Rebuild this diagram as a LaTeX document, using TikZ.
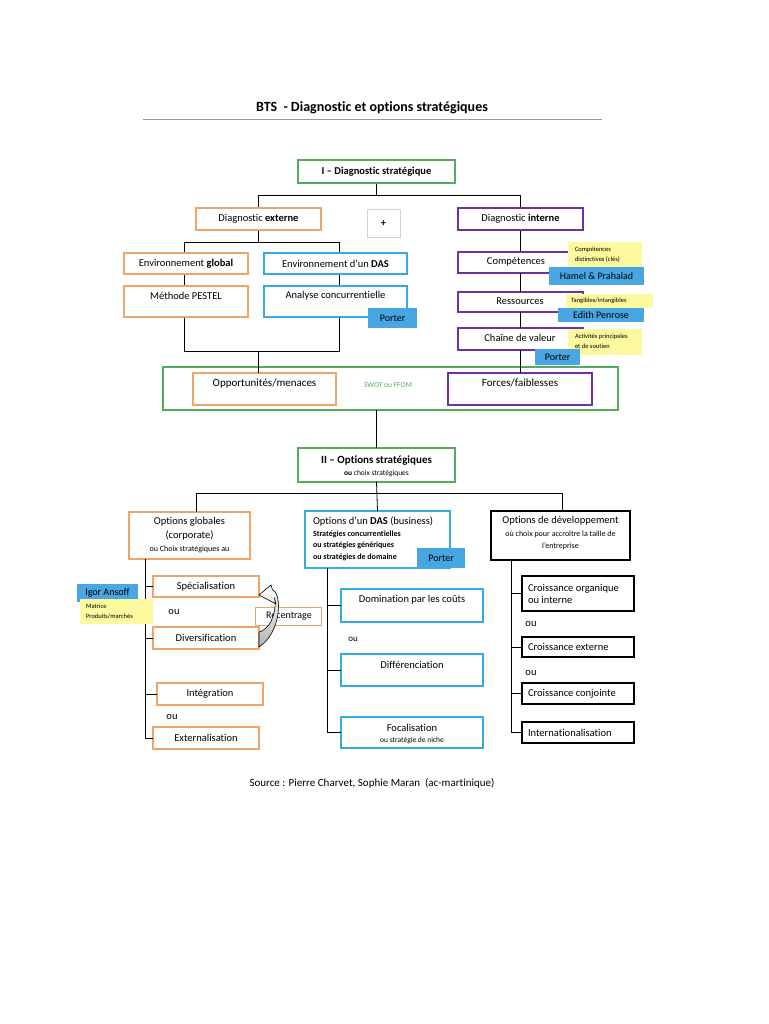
\documentclass[tikz,border=0pt]{standalone}
\usepackage{fontspec}
\setmainfont{Carlito}[Ligatures={NoCommon,NoContextual}]
\usetikzlibrary{backgrounds}
\pgfdeclarelayer{bg}
\pgfsetlayers{bg,background,main}
\definecolor{grn}{RGB}{84,172,92}
\definecolor{org}{RGB}{240,164,104}
\definecolor{blu}{RGB}{52,170,226}
\definecolor{pur}{RGB}{112,48,160}
\definecolor{noteb}{RGB}{72,166,226}
\definecolor{notey}{RGB}{252,249,158}
\definecolor{tan}{RGB}{214,170,120}
\newcommand\fz[2]{\fontsize{#1}{#2}\selectfont}
\newcommand\bx[7]{\node[#2,anchor=north west,minimum width={(#5-#3)*1pt},minimum height={(#6-#4)*1pt}] (#1) at (#3,#4) {#7};}
\begin{document}
\begin{tikzpicture}[x=1pt,y=-1pt,
  every node/.style={inner sep=0pt,outer sep=0pt,font=\fz{10.5}{12}},
  gbox/.style={draw=grn,line width=1.6pt,fill=white},
  obox/.style={draw=org,line width=1.6pt,fill=white},
  bbox/.style={draw=blu,line width=1.6pt,fill=white},
  pbox/.style={draw=pur,line width=1.6pt,fill=white},
  kbox/.style={draw=black,line width=1.5pt,fill=white},
  plusbox/.style={draw=gray!35,line width=1pt,fill=white},
  rbox/.style={draw=tan,line width=0.7pt,fill=white},
  noteB/.style={fill=noteb,font=\fz{10}{12}},
  noteY/.style={fill=notey},
  ytxt/.style={anchor=west,align=left,font=\fz{6.5}{10}},
  conn/.style={draw=black,line width=0.8pt},
  small/.style={font=\fz{8}{10}},
  tiny/.style={font=\fz{7.5}{9}},
  ltxt/.style={anchor=west,align=left}]
\useasboundingbox (0,0) rectangle (768,1024);
\begin{pgfonlayer}{bg}
\fill[white] (0,0) rectangle (768,1024);
\end{pgfonlayer}

% title
\node[font=\bfseries\fz{14}{16}] (title) at (372,108) {BTS\ \ - Diagnostic et options stratégiques};
\coordinate (tl) at (143,119);
\coordinate (tr) at (602,119);
\draw[gray!80,line width=0.6pt] (tl) -- (tr);

% ---------- Part I ----------
\bx{ds}{gbox}{298}{160}{455}{183}{\bfseries I -- Diagnostic stratégique}
\bx{de}{obox}{196}{208}{321}{230}{Diagnostic \textbf{externe}}
\bx{plus}{plusbox}{367}{210}{400}{237}{\textbf{+}}
\bx{di}{pbox}{458}{208}{583}{230}{Diagnostic \textbf{interne}}

\bx{eg}{obox}{124}{253}{248}{274}{Environnement \textbf{global}}
\bx{ed}{bbox}{264}{253}{407}{274}{Environnement d’un \textbf{DAS}}
\bx{pe}{obox}{124}{286}{248}{317}{}
\node (pet) at (186,296) {Méthode PESTEL};
\bx{ac}{bbox}{264}{286}{407}{317}{}
\node (act) at (335.5,296) {Analyse concurrentielle};

\bx{comp}{pbox}{458}{252}{583}{273}{}
\node (compt) at (516,262) {Compétences};
\bx{res}{pbox}{458}{292}{583}{312}{}
\node (rest) at (520,301) {Ressources};
\bx{ch}{pbox}{458}{328}{583}{350}{}
\node (cht) at (520,338) {Chaîne de valeur};

\bx{swot}{gbox}{163}{367}{618}{410}{}
\node[text=grn,font=\fz{7.5}{9}] (swott) at (388,385) {SWOT ou FFOM};
\bx{opp}{obox}{193}{373}{336}{405}{}
\node[font=\fz{11}{13}] (oppt) at (264.5,384) {Opportunités/menaces};
\bx{fo}{pbox}{448}{373}{592}{405}{}
\node[font=\fz{11}{13}] (fot) at (520,383) {Forces/faiblesses};

% connectors part I
\coordinate (y1) at (0,195);
\coordinate (y2) at (0,242);
\coordinate (y3) at (0,351);
\coordinate (xl) at (184,0);
\coordinate (xr) at (339,0);
\begin{pgfonlayer}{background}
\draw[conn] (ds.south) -- (ds.south |- y1);
\draw[conn] (de.north) -- (de.north |- y1) -- (di.north |- y1) -- (di.north);
\draw[conn] (de.south) -- (de.south |- y2);
\draw[conn] (xl |- y2) -- (xr |- y2) -- (xr |- y3) -- (xl |- y3) -- cycle;
\draw[conn] (di.south) -- (comp.north -| di.south);
\end{pgfonlayer}
\draw[conn] (comp.south -| di.south) -- (res.north -| di.south);
\draw[conn] (res.south -| di.south) -- (ch.north -| di.south);
\draw[conn] (ch.south -| di.south) -- (fo.north -| di.south);
\draw[conn] (de.south |- y3) -- (de.south |- opp.north);

% ---------- Part II ----------
\bx{ii}{gbox}{298}{448}{455}{482}{}
\node[font=\bfseries\fz{11}{13}] (iit) at (376.5,461) {II -- Options stratégiques};
\node[tiny] (iis) at (376.5,473.5) {\textbf{ou} choix stratégiques};
\draw[conn] (swot.south -| ii.north) -- (ii.north);

\bx{og}{obox}{129}{512}{250}{559}{}
\node (og1) at (189.5,522) {Options globales};
\node (og2) at (189.5,536) {(corporate)};
\node[small] (og3) at (189.5,549) {ou Choix stratégiques au};

\bx{das}{bbox}{305}{511}{450}{568}{}
\node[ltxt] (das1) at (313,522) {Options d’un \textbf{DAS} (business)};
\node[ltxt,font=\bfseries\fz{8}{10}] (das2) at (313,534) {Stratégies concurrentielles};
\node[ltxt,font=\bfseries\fz{8}{10}] (das3) at (313,545.5) {ou stratégies génériques};
\node[ltxt,font=\bfseries\fz{8}{10}] (das4) at (313,557) {ou stratégies de domaine};

\bx{od}{kbox}{491}{511}{630}{560}{}
\node (od1) at (560.5,521) {Options de développement};
\node[small] (od2) at (560.5,534) {où choix pour accroître la taille de};
\node[small] (od3) at (560.5,546) {l’entreprise};

\coordinate (y4) at (0,493);
\draw[conn] (ii.south) -- (das.north);
\draw[conn] ([xshift=7pt]og.north) -- ([xshift=7pt]og.north |- y4) -- ([xshift=1.5pt]od.north |- y4) -- ([xshift=1.5pt]od.north);

% left column
\bx{sp}{obox}{153}{576}{259}{597}{Spécialisation}
\bx{dv}{obox}{153}{627}{259}{649}{Diversification}
\bx{ig}{obox}{157}{683}{263}{705}{Intégration}
\bx{ex}{obox}{153}{727}{259}{749}{Externalisation}
\node (ou1) at (174,612) {ou};
\node (ou2) at (172,717) {ou};
\coordinate (xc1) at (145,0);
\draw[conn] (og.south -| xc1) -- (xc1 |- ex.west) -- (ex.west);
\draw[conn] (xc1 |- sp.west) -- (sp.west);
\draw[conn] (xc1 |- dv.west) -- (dv.west);
\draw[conn] (xc1 |- ig.west) -- (ig.west);

% middle column
\bx{dom}{bbox}{341}{589}{483}{622}{}
\node (domt) at (412,600) {Domination par les coûts};
\bx{dif}{bbox}{341}{654}{483}{686}{}
\node (dift) at (412,665) {Différenciation};
\bx{foc}{bbox}{341}{717}{483}{748}{}
\node (foct) at (412,727.5) {Focalisation};
\node[tiny] (focs) at (412,741) {ou stratégie de niche};
\node[font=\fz{9}{10}] (ou3) at (353,639) {ou};
\coordinate (xc2) at (327,0);
\draw[conn] (das.south -| xc2) -- (xc2 |- foc.west) -- (foc.west);
\draw[conn] (xc2 |- dom.west) -- (dom.west);
\draw[conn] (xc2 |- dif.west) -- (dif.west);

% right column
\bx{co}{kbox}{522}{576}{634}{611}{}
\node[ltxt,align=left] (cot) at (528,593.5) {Croissance organique\\ou interne};
\bx{ce}{kbox}{522}{637}{634}{657}{}
\node[ltxt] (cet) at (528,647) {Croissance externe};
\bx{cc}{kbox}{522}{683}{634}{704}{}
\node[ltxt] (cct) at (528,693.5) {Croissance conjointe};
\bx{int}{kbox}{522}{722}{634}{743}{}
\node[ltxt] (intt) at (528,732.5) {Internationalisation};
\node (ou4) at (531,624) {ou};
\node (ou5) at (531,673) {ou};
\coordinate (xc3) at (511,0);
\draw[conn] (od.south -| xc3) -- (xc3 |- int.west) -- (int.west);
\draw[conn] (xc3 |- co.west) -- (co.west);
\draw[conn] (xc3 |- ce.west) -- (ce.west);
\draw[conn] (xc3 |- cc.west) -- (cc.west);

% recentrage + curved arrow
\bx{rec}{rbox}{255}{607}{321}{625}{}
\node[font=\fz{10}{12}] (rect) at (289,616) {Recentrage};
\path[draw=black,line width=0.6pt,top color=white,bottom color=gray!60]
  (259,632) .. controls (274,628) and (277,604) .. (274.3,597.5)
  -- (276,604) -- (259,595) -- (271,585) -- (272.5,590)
  .. controls (282,593) and (282,632) .. (259,647) -- cycle;

% sticky notes
\bx{yc}{noteY}{568}{242}{642}{268}{}
\node[ytxt] (yct) at (575,254.5) {Compétences\\distinctives (clés)};
\bx{hp}{noteB}{549}{267}{644}{285}{Hamel \& Prahalad}
\bx{yt}{noteY}{566}{294}{653}{308}{}
\node[ytxt] (ytt) at (571,301) {Tangibles/intangibles};
\bx{ep}{noteB}{558}{308}{644}{322}{Edith Penrose}
\bx{ya}{noteY}{568}{329}{642}{355}{}
\node[ytxt] (yat) at (575,341) {Activités principales\\et de soutien};
\bx{p2}{noteB}{535}{349}{580}{365}{Porter}
\bx{p1}{noteB}{368}{308}{417}{328}{Porter}
\bx{p3}{noteB}{417}{548}{465}{568}{Porter}
\bx{igor}{noteB}{77}{584}{138}{602}{Igor Ansoff}
\bx{ym}{noteY}{80}{599}{153}{624}{}
\node[ytxt] (ymt) at (86,611.5) {Matrice\\Produits/marchés};

% source
\node[font=\fz{11}{13}] (src) at (372,783) {Source : Pierre Charvet, Sophie Maran\ \ (ac-martinique)};
\end{tikzpicture}
\end{document}
